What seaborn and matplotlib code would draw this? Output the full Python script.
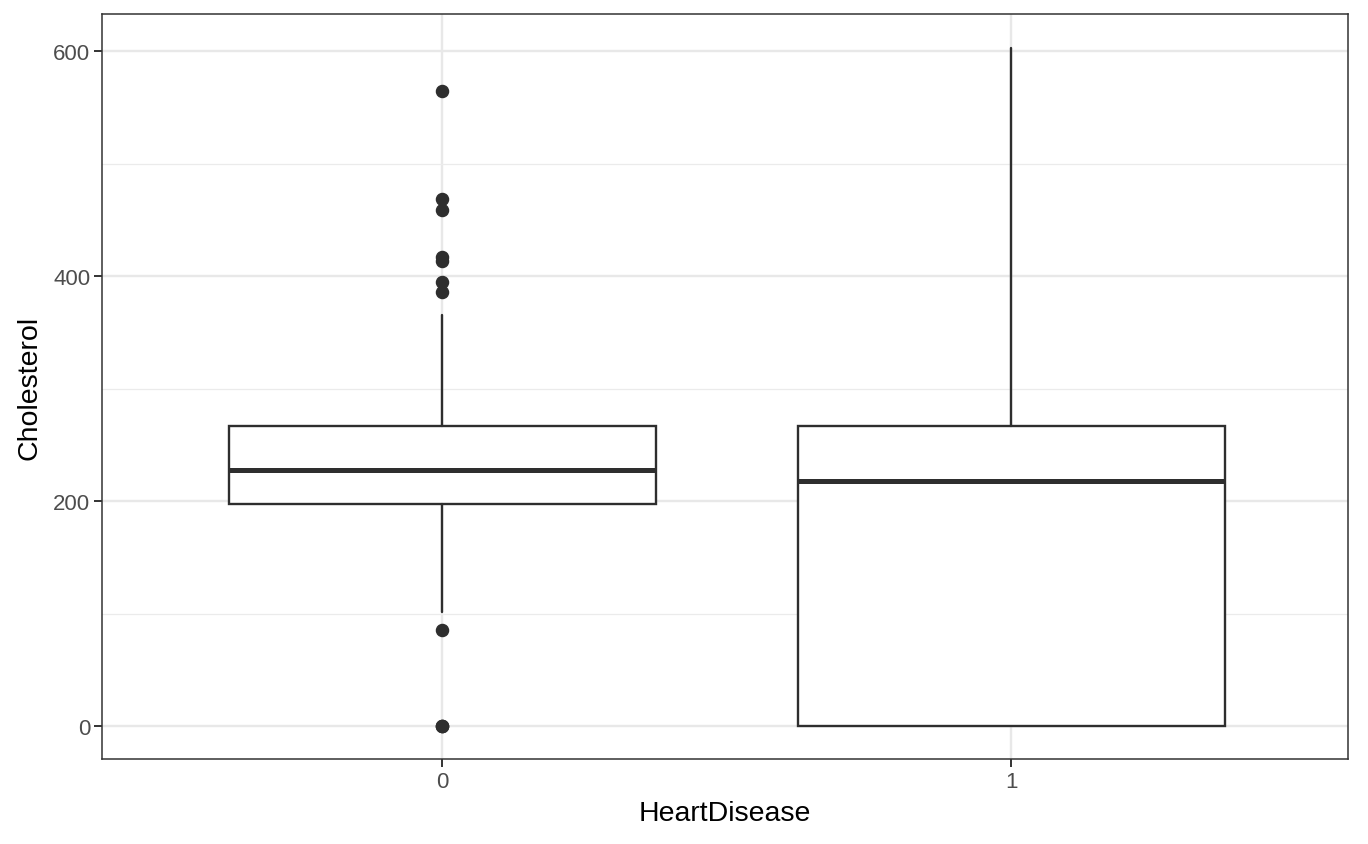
import numpy as np
import pandas as pd
import matplotlib
matplotlib.use("Agg")
import matplotlib.pyplot as plt
import seaborn as sns

# box summaries (Cholesterol by HeartDisease)
groups = ["0", "1"]
whislo = [101, 0]
q1 = [197, 0]
med = [228, 218]
q3 = [267, 267]
whishi = [365, 603]
fliers = [[565, 469, 459, 417, 413, 395, 386, 85, 0, 0, 0], []]

y_ticks = [0, 200, 400, 600]
y_minor = [100, 300, 500]

sns.set_theme(style="white")
plt.rcParams['font.family'] = ['Liberation Sans', 'DejaVu Sans']

fig = plt.figure(figsize=(13.68, 8.45), dpi=100)
ax = fig.add_axes([0.0746, 0.1006, 0.9108, 0.8816])

stats = []
for i, g in enumerate(groups):
    stats.append(dict(label=g, whislo=whislo[i], q1=q1[i], med=med[i],
                      q3=q3[i], whishi=whishi[i], fliers=fliers[i]))

dark = "#2e2e2e"
ax.bxp(stats, positions=range(len(groups)), widths=0.75, showcaps=False,
       patch_artist=True,
       boxprops=dict(facecolor="white", edgecolor=dark, linewidth=1.7),
       whiskerprops=dict(color=dark, linewidth=1.7),
       medianprops=dict(color=dark, linewidth=3.6, solid_capstyle="butt"),
       flierprops=dict(marker="o", markerfacecolor=dark, markeredgecolor=dark,
                       markersize=8.7),
       zorder=3)

ax.set_xlim(-0.598, 1.592)
ax.set_ylim(-29.3, 633)
ax.set_yticks(y_ticks)
ax.set_yticks(y_minor, minor=True)
ax.set_xticks(range(len(groups)))
ax.set_xticklabels(groups)

ax.grid(which="major", color="#E8E8E8", linewidth=1.7, zorder=0)
ax.grid(which="minor", axis="y", color="#EBEBEB", linewidth=0.9, zorder=0)
ax.set_axisbelow(True)

for s in ax.spines.values():
    s.set_color("#333333")
    s.set_linewidth(1.1)
    s.set_visible(True)

ax.tick_params(axis="both", which="major", length=5.5, width=1.4, color="#333333",
               labelsize=16, labelcolor="#4D4D4D", pad=3, direction="out",
               bottom=True, left=True)
ax.tick_params(which="minor", length=0)

ax.set_xlabel("HeartDisease", fontsize=20.5, color="black", labelpad=6)
ax.set_ylabel("Cholesterol", fontsize=20.5, color="black", labelpad=8)

fig.savefig("out.png", dpi=100)
